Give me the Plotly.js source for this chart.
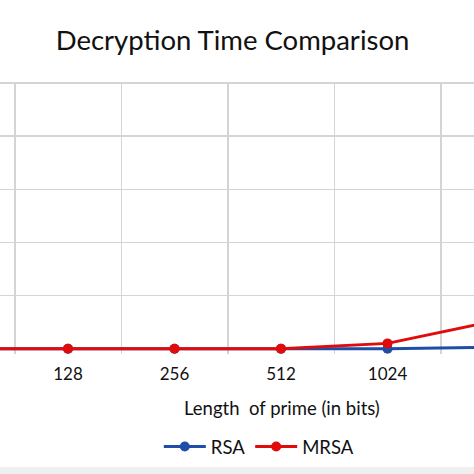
<!DOCTYPE html>
<html>
<head>
<meta charset="utf-8">
<script src="https://cdn.plot.ly/plotly-3.0.1.min.js"></script>
<style>html,body{margin:0;padding:0;background:#fff;}#chart{width:474px;height:474px;}</style>
</head>
<body>
<div id="chart"></div>
<script>
// Data (category axis; the first and last categories fall outside the visible crop)
const primeLengths = ["64", "128", "256", "512", "1024", "2048"];
const rsaTimes  = [0, 0, 0, 0, 0, 0.03];
const mrsaTimes = [0, 0, 0, 0, 0.1, 0.52];
const seriesNames = ["RSA", "MRSA"];

const FONT = "Lato, 'Open Sans', sans-serif";

const traces = [
  {
    x: primeLengths, y: rsaTimes, name: seriesNames[0],
    type: "scatter", mode: "lines+markers",
    line: {color: "#1f4ea8", width: 3},
    marker: {color: "#1f4ea8", size: 10},
    cliponaxis: false
  },
  {
    x: primeLengths, y: mrsaTimes, name: seriesNames[1],
    type: "scatter", mode: "lines+markers",
    line: {color: "#e00b0b", width: 3},
    marker: {color: "#e00b0b", size: 10},
    cliponaxis: false
  }
];

const plotTop = 82, plotBot = 120;
const plotH = 474 - plotTop - plotBot;
const py = (pix) => (474 - plotBot - pix) / plotH; // pixel row -> paper y

const layout = {
  width: 474, height: 474,
  margin: {l: 0, r: 0, t: plotTop, b: plotBot},
  paper_bgcolor: "#ffffff", plot_bgcolor: "#ffffff",
  showlegend: true,
  title: {
    text: "Decryption Time Comparison",
    font: {family: FONT, size: 27.5, color: "#111"},
    x: 0.4905, xanchor: "center", y: 0.915, yanchor: "middle"
  },
  xaxis: {
    type: "category",
    range: [0.3615, 4.812],
    tickson: "boundaries",
    showgrid: true, gridcolor: "#d4d4d4", gridwidth: 1.5,
    ticks: "", showline: false, zeroline: false,
    tickfont: {family: FONT, size: 17, color: "#111"},
    ticklabelstandoff: 8
  },
  yaxis: {
    range: [-0.1, 5.02],
    dtick: 1, tick0: 0,
    showgrid: true, gridcolor: "#d4d4d4", gridwidth: 1.5,
    showticklabels: false, ticks: "", zeroline: false, showline: false
  },
  legend: {
    orientation: "h", x: 0.546, xanchor: "center",
    y: py(447), yref: "paper", yanchor: "middle",
    font: {family: FONT, size: 18.5, color: "#111"},
    itemwidth: 42, tracegroupgap: 0
  },
  annotations: [
    {
      text: "Length  of prime (in bits)", showarrow: false,
      xref: "paper", yref: "paper", x: 0.594, y: py(408),
      xanchor: "center", yanchor: "middle",
      font: {family: FONT, size: 18.5, color: "#111"}
    }
  ],
  shapes: [
    {type: "rect", xref: "paper", yref: "paper", x0: -0.01, x1: 1.01,
     y0: py(476), y1: py(467), fillcolor: "#efefef", line: {width: 0}, layer: "below"}
  ]
};

Plotly.newPlot("chart", traces, layout, {staticPlot: true, displayModeBar: false});
</script>
</body>
</html>
